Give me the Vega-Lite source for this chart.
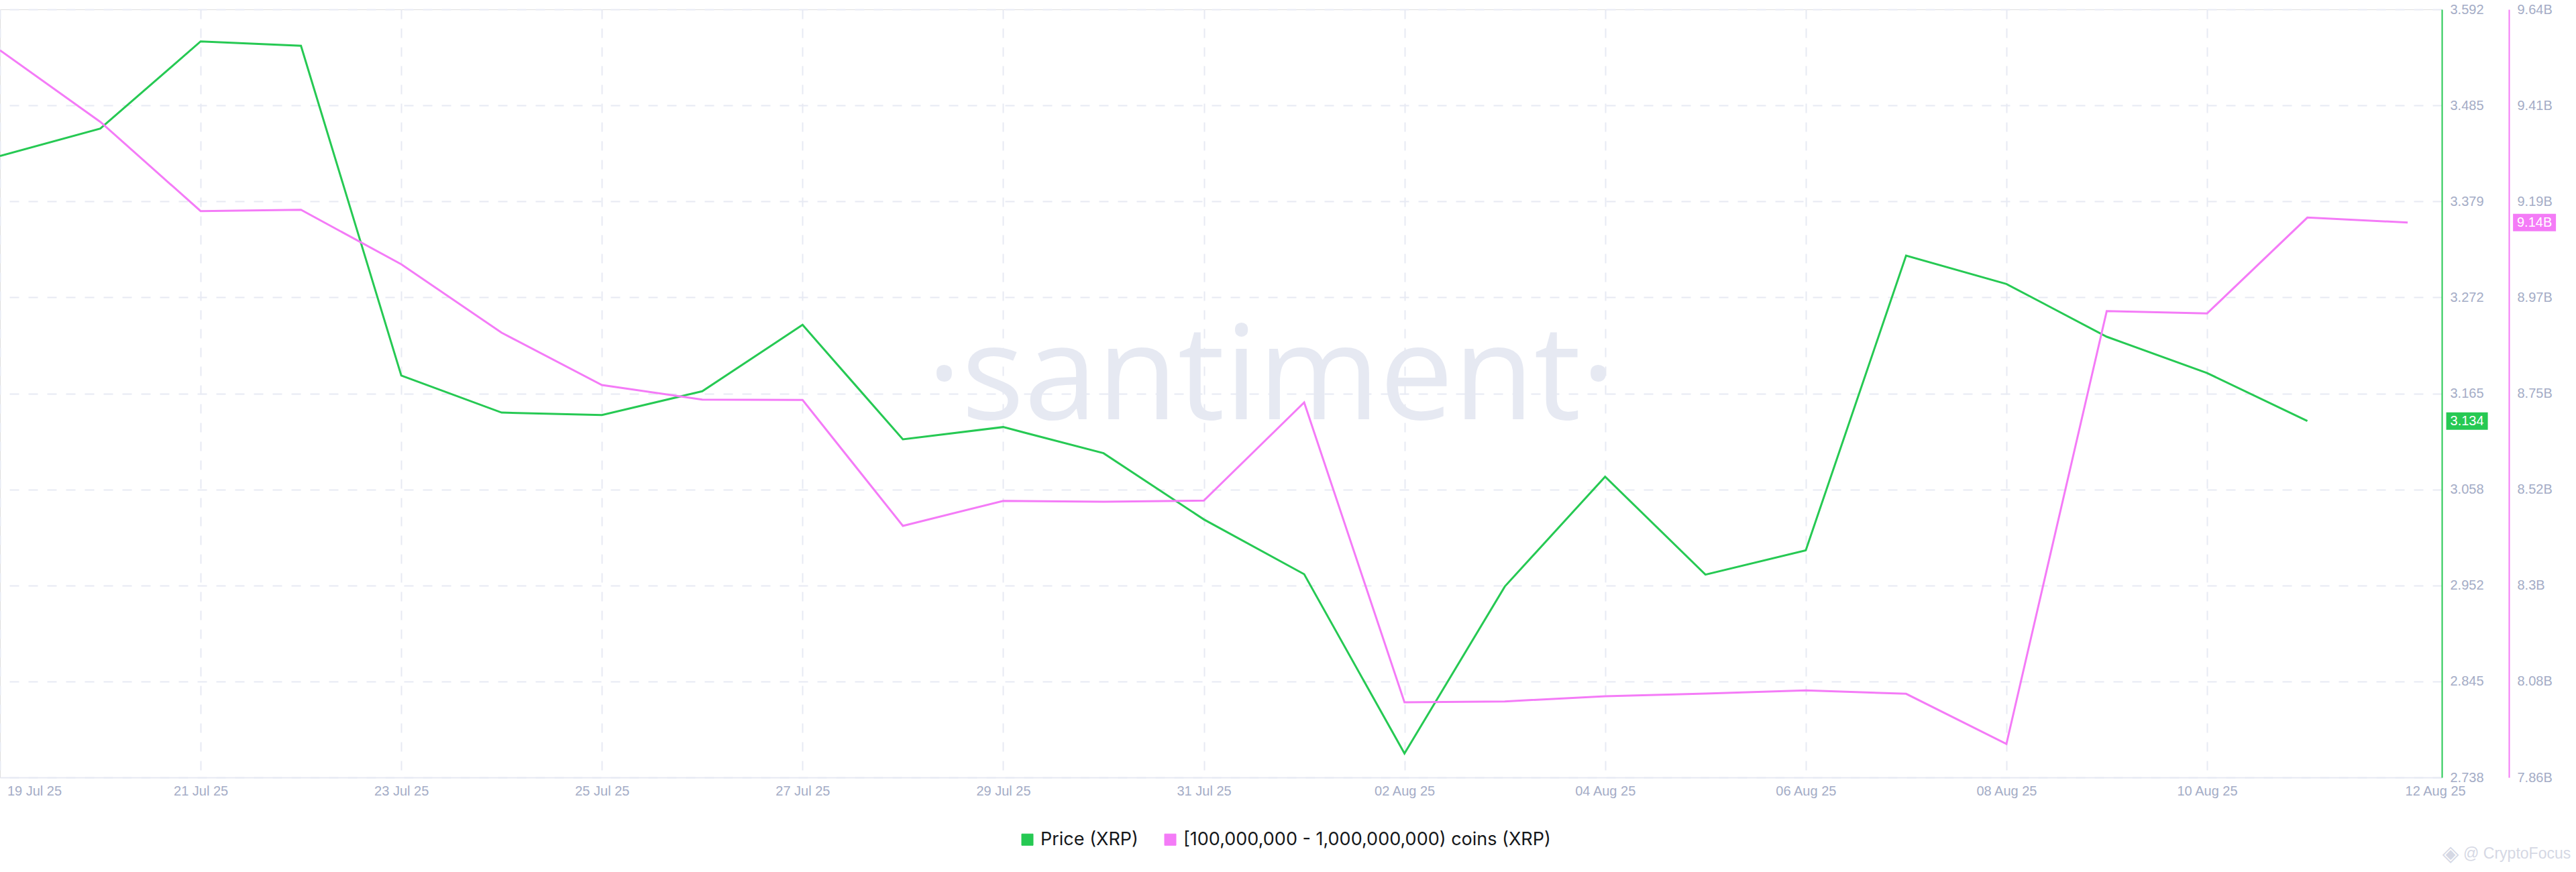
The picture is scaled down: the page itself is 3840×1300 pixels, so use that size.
{
"$schema":"https://vega.github.io/schema/vega-lite/v6.json",
"width":3640,"height":1145,
"autosize":{"type":"none"},
"padding":{"top":14,"left":0,"right":200,"bottom":141},
"background":"#ffffff",
"datasets":{
"price":[
{"date":"2025-07-19T00:00:00Z","series":"Price (XRP)","value":3.4289},
{"date":"2025-07-20T00:00:00Z","series":"Price (XRP)","value":3.4595},
{"date":"2025-07-21T00:00:00Z","series":"Price (XRP)","value":3.5564},
{"date":"2025-07-22T00:00:00Z","series":"Price (XRP)","value":3.5515},
{"date":"2025-07-23T00:00:00Z","series":"Price (XRP)","value":3.1848},
{"date":"2025-07-24T00:00:00Z","series":"Price (XRP)","value":3.1437},
{"date":"2025-07-25T00:00:00Z","series":"Price (XRP)","value":3.141},
{"date":"2025-07-26T00:00:00Z","series":"Price (XRP)","value":3.1674},
{"date":"2025-07-27T00:00:00Z","series":"Price (XRP)","value":3.2412},
{"date":"2025-07-28T00:00:00Z","series":"Price (XRP)","value":3.1139},
{"date":"2025-07-29T00:00:00Z","series":"Price (XRP)","value":3.1276},
{"date":"2025-07-30T00:00:00Z","series":"Price (XRP)","value":3.0985},
{"date":"2025-07-31T00:00:00Z","series":"Price (XRP)","value":3.0249},
{"date":"2025-08-01T00:00:00Z","series":"Price (XRP)","value":2.964},
{"date":"2025-08-02T00:00:00Z","series":"Price (XRP)","value":2.7646},
{"date":"2025-08-03T00:00:00Z","series":"Price (XRP)","value":2.9503},
{"date":"2025-08-04T00:00:00Z","series":"Price (XRP)","value":3.0724},
{"date":"2025-08-05T00:00:00Z","series":"Price (XRP)","value":2.9635},
{"date":"2025-08-06T00:00:00Z","series":"Price (XRP)","value":2.9905},
{"date":"2025-08-07T00:00:00Z","series":"Price (XRP)","value":3.3183},
{"date":"2025-08-08T00:00:00Z","series":"Price (XRP)","value":3.2867},
{"date":"2025-08-09T00:00:00Z","series":"Price (XRP)","value":3.228},
{"date":"2025-08-10T00:00:00Z","series":"Price (XRP)","value":3.1877},
{"date":"2025-08-11T00:00:00Z","series":"Price (XRP)","value":3.1343}
],
"coins":[
{"date":"2025-07-19T00:00:00Z","series":"[100,000,000 - 1,000,000,000) coins (XRP)","value":9545200000},
{"date":"2025-07-20T00:00:00Z","series":"[100,000,000 - 1,000,000,000) coins (XRP)","value":9379300000},
{"date":"2025-07-21T00:00:00Z","series":"[100,000,000 - 1,000,000,000) coins (XRP)","value":9172500000},
{"date":"2025-07-22T00:00:00Z","series":"[100,000,000 - 1,000,000,000) coins (XRP)","value":9175600000},
{"date":"2025-07-23T00:00:00Z","series":"[100,000,000 - 1,000,000,000) coins (XRP)","value":9049200000},
{"date":"2025-07-24T00:00:00Z","series":"[100,000,000 - 1,000,000,000) coins (XRP)","value":8890700000},
{"date":"2025-07-25T00:00:00Z","series":"[100,000,000 - 1,000,000,000) coins (XRP)","value":8769400000},
{"date":"2025-07-26T00:00:00Z","series":"[100,000,000 - 1,000,000,000) coins (XRP)","value":8735700000},
{"date":"2025-07-27T00:00:00Z","series":"[100,000,000 - 1,000,000,000) coins (XRP)","value":8734700000},
{"date":"2025-07-28T00:00:00Z","series":"[100,000,000 - 1,000,000,000) coins (XRP)","value":8443000000},
{"date":"2025-07-29T00:00:00Z","series":"[100,000,000 - 1,000,000,000) coins (XRP)","value":8501000000},
{"date":"2025-07-30T00:00:00Z","series":"[100,000,000 - 1,000,000,000) coins (XRP)","value":8498900000},
{"date":"2025-07-31T00:00:00Z","series":"[100,000,000 - 1,000,000,000) coins (XRP)","value":8501600000},
{"date":"2025-08-01T00:00:00Z","series":"[100,000,000 - 1,000,000,000) coins (XRP)","value":8729000000},
{"date":"2025-08-02T00:00:00Z","series":"[100,000,000 - 1,000,000,000) coins (XRP)","value":8034100000},
{"date":"2025-08-03T00:00:00Z","series":"[100,000,000 - 1,000,000,000) coins (XRP)","value":8036200000},
{"date":"2025-08-04T00:00:00Z","series":"[100,000,000 - 1,000,000,000) coins (XRP)","value":8048100000},
{"date":"2025-08-05T00:00:00Z","series":"[100,000,000 - 1,000,000,000) coins (XRP)","value":8054300000},
{"date":"2025-08-06T00:00:00Z","series":"[100,000,000 - 1,000,000,000) coins (XRP)","value":8061600000},
{"date":"2025-08-07T00:00:00Z","series":"[100,000,000 - 1,000,000,000) coins (XRP)","value":8053800000},
{"date":"2025-08-08T00:00:00Z","series":"[100,000,000 - 1,000,000,000) coins (XRP)","value":7937700000},
{"date":"2025-08-09T00:00:00Z","series":"[100,000,000 - 1,000,000,000) coins (XRP)","value":8940900000},
{"date":"2025-08-10T00:00:00Z","series":"[100,000,000 - 1,000,000,000) coins (XRP)","value":8935300000},
{"date":"2025-08-11T00:00:00Z","series":"[100,000,000 - 1,000,000,000) coins (XRP)","value":9157600000},
{"date":"2025-08-12T00:00:00Z","series":"[100,000,000 - 1,000,000,000) coins (XRP)","value":9146100000}
]
},
"resolve":{"scale":{"y":"independent"},"axis":{"y":"independent"}},
"layer":[
{"data":{"values":[{"date":"2025-07-31T16:07:00Z","value":3.1363,"label":"·santiment·"}]},
 "mark":{"type":"text","font":"Open Sans","fontSize":196,"color":"#E6E9F2","align":"center","baseline":"alphabetic"},
 "encoding":{
  "x":{"field":"date","type":"temporal","scale":{"type":"utc","domain":["2025-07-19T00:00:00Z","2025-08-12T08:10:00Z"]},
   "axis":{"title":null,"orient":"bottom","values":["2025-07-19T00:00:00Z","2025-07-21T00:00:00Z","2025-07-23T00:00:00Z","2025-07-25T00:00:00Z","2025-07-27T00:00:00Z","2025-07-29T00:00:00Z","2025-07-31T00:00:00Z","2025-08-02T00:00:00Z","2025-08-04T00:00:00Z","2025-08-06T00:00:00Z","2025-08-08T00:00:00Z","2025-08-10T00:00:00Z","2025-08-12T00:00:00Z"],
    "labelExpr":"utcFormat(datum.value,'%d %b %y')","labelFont":"Liberation Sans","labelFontSize":20,"labelColor":"#A4ACC6","labelPadding":10,"labelOverlap":false,"labelFlush":false,"labelBound":false,
    "labelOffset":{"condition":[{"test":"utcdate(datum.value)==19","value":51},{"test":"utcdate(datum.value)==12","value":41}],"value":0},
    "ticks":false,"domainColor":"#E7EAF3","domainWidth":2,
    "grid":true,"gridColor":"#E7EAF3","gridWidth":2,"gridDash":[14,14],
    "gridOpacity":{"condition":{"test":"utcdate(datum.value)==12","value":0},"value":1}}},
  "y":{"field":"value","type":"quantitative","scale":{"domain":[2.738,3.592],"nice":false,"zero":false},"axis":null},
  "text":{"field":"label"}}},
{"data":{"name":"price"},
 "mark":{"type":"line","strokeWidth":3,"clip":false},
 "encoding":{
  "x":{"field":"date","type":"temporal"},
  "y":{"field":"value","type":"quantitative","scale":{"domain":[2.738,3.592],"nice":false,"zero":false},
   "axis":{"title":null,"orient":"right","values":[2.738,2.8448,2.9516,3.0583,3.165,3.2718,3.3786,3.4853,3.592],"format":".3f",
    "labelFont":"Liberation Sans","labelFontSize":20,"labelColor":"#A4ACC6","labelPadding":12,"ticks":false,"domainColor":"#26C953","domainWidth":2,"labelBound":false,"labelOverlap":false,
    "grid":true,"gridColor":"#E7EAF3","gridWidth":2,"gridDash":[14,14]}},
  "color":{"field":"series","type":"nominal",
   "scale":{"domain":["Price (XRP)","[100,000,000 - 1,000,000,000) coins (XRP)"],"range":["#26C953","#F47BF7"]},
   "legend":{"title":null,"orient":"none","legendX":1518,"legendY":1224,"direction":"horizontal","columns":2,"symbolType":"square","symbolSize":289,"symbolStrokeWidth":1,"labelFont":"Inter","labelFontSize":27,"labelColor":"#15171A","labelOffset":6,"columnPadding":34,"labelLimit":800,"padding":0,
    "encode":{"symbols":{"update":{"fill":{"scale":"color","field":"value"},"stroke":{"scale":"color","field":"value"}}}}}}}},
{"data":{"name":"coins"},
 "mark":{"type":"line","strokeWidth":3,"clip":false},
 "encoding":{
  "x":{"field":"date","type":"temporal"},
  "y":{"field":"value","type":"quantitative","scale":{"domain":[7860000000,9640000000],"nice":false,"zero":false},
   "axis":{"title":null,"orient":"right","offset":100,"values":[7860000000,8082500000,8305000000,8527500000,8750000000,8972500000,9195000000,9417500000,9640000000],"labelExpr":"floor(datum.value/1e7)/100+'B'",
    "labelFont":"Liberation Sans","labelFontSize":20,"labelColor":"#A4ACC6","labelPadding":12,"ticks":false,"domainColor":"#F47BF7","domainWidth":2,"labelBound":false,"labelOverlap":false,"grid":false}},
  "color":{"field":"series","type":"nominal"}}},
{"data":{"values":[{"date":"2025-08-11T00:00:00Z","value":3.1343,"label":"3.134"}]},
 "layer":[
 {"mark":{"type":"rect","width":62,"height":26,"color":"#26C953","xOffset":238},
  "encoding":{"x":{"field":"date","type":"temporal"},"y":{"field":"value","type":"quantitative","scale":{"domain":[2.738,3.592],"nice":false,"zero":false},"axis":null}}},
 {"mark":{"type":"text","font":"Liberation Sans","fontSize":20,"color":"#ffffff","dx":238,"align":"center","baseline":"middle"},
  "encoding":{"x":{"field":"date","type":"temporal"},"y":{"field":"value","type":"quantitative","scale":{"domain":[2.738,3.592],"nice":false,"zero":false},"axis":null},"text":{"field":"label"}}}
 ]},
{"data":{"values":[{"date":"2025-08-12T00:00:00Z","value":9146100000,"label":"9.14B"}]},
 "layer":[
 {"mark":{"type":"rect","width":64,"height":26,"color":"#F47BF7","xOffset":189},
  "encoding":{"x":{"field":"date","type":"temporal"},"y":{"field":"value","type":"quantitative","scale":{"domain":[7860000000,9640000000],"nice":false,"zero":false},"axis":null}}},
 {"mark":{"type":"text","font":"Liberation Sans","fontSize":20,"color":"#ffffff","dx":189,"align":"center","baseline":"middle"},
  "encoding":{"x":{"field":"date","type":"temporal"},"y":{"field":"value","type":"quantitative","scale":{"domain":[7860000000,9640000000],"nice":false,"zero":false},"axis":null},"text":{"field":"label"}}}
 ]},
{"data":{"values":[{"date":"2025-08-12T00:00:00Z","value":2.738,"label":"@ CryptoFocus","logo":"◈"}]},
 "layer":[
 {"mark":{"type":"text","font":"Liberation Sans","fontSize":23,"color":"#D5D8E4","dx":83,"dy":114,"align":"left","baseline":"middle"},
  "encoding":{"x":{"field":"date","type":"temporal"},"y":{"field":"value","type":"quantitative","scale":{"domain":[2.738,3.592],"nice":false,"zero":false},"axis":null},"text":{"field":"label"}}},
 {"mark":{"type":"text","font":"DejaVu Sans","fontSize":32,"color":"#D5D8E4","dx":64,"dy":114,"align":"center","baseline":"middle"},
  "encoding":{"x":{"field":"date","type":"temporal"},"y":{"field":"value","type":"quantitative","scale":{"domain":[2.738,3.592],"nice":false,"zero":false},"axis":null},"text":{"field":"logo"}}}
 ]}
]
}
